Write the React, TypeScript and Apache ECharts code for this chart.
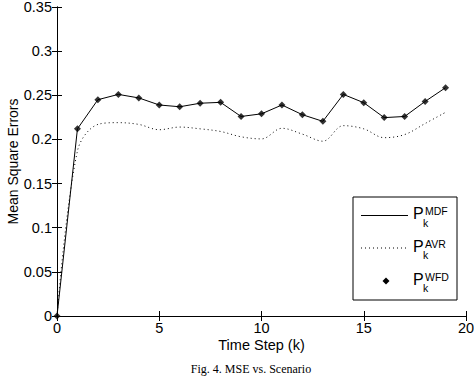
import React, { useEffect, useRef } from "react";
import * as echarts from "echarts";

const steps = [0, 1, 2, 3, 4, 5, 6, 7, 8, 9, 10, 11, 12, 13, 14, 15, 16, 17, 18, 19];
const mdf = [0, 0.212, 0.245, 0.251, 0.247, 0.239, 0.237, 0.241, 0.242, 0.226, 0.229, 0.239, 0.228, 0.2205, 0.251, 0.2416, 0.2247, 0.226, 0.243, 0.2586];
const wfd = [0, 0.212, 0.245, 0.251, 0.247, 0.239, 0.237, 0.241, 0.242, 0.226, 0.229, 0.239, 0.228, 0.2205, 0.251, 0.2416, 0.2247, 0.226, 0.243, 0.2586];
const avr = [0, 0.187, 0.217, 0.219, 0.217, 0.211, 0.214, 0.212, 0.209, 0.203, 0.2006, 0.2126, 0.206, 0.198, 0.2156, 0.212, 0.202, 0.2055, 0.218, 0.2307];
const legendNames = ["MDF", "AVR", "WFD"];
const xTitle = "Time Step (k)";
const yTitle = "Mean Square Errors";
const caption = "Fig. 4. MSE vs. Scenario";

const FONT = "'Liberation Sans', Arial, sans-serif";

function legendEntry(i: number, name: string, cy: number): any[] {
  const els: any[] = [];
  if (i === 0) {
    els.push({ type: "line", shape: { x1: 361, y1: cy, x2: 408, y2: cy }, style: { stroke: "#000", lineWidth: 1 } });
  } else if (i === 1) {
    els.push({ type: "line", shape: { x1: 361, y1: cy, x2: 408, y2: cy }, style: { stroke: "#000", lineWidth: 1, lineDash: [1, 3] } });
  } else {
    els.push({ type: "polygon", shape: { points: [[386, cy - 3.5], [389.5, cy], [386, cy + 3.5], [382.5, cy]] }, style: { fill: "#000" } });
  }
  els.push({ type: "text", x: 413, y: cy - 2, style: { text: "P", font: `16px ${FONT}`, fill: "#000", align: "left", verticalAlign: "middle", textAlign: "left", textVerticalAlign: "middle" } });
  els.push({ type: "text", x: 425, y: cy - 4.5, style: { text: name, font: `10.5px ${FONT}`, fill: "#000", align: "left", verticalAlign: "middle", textAlign: "left", textVerticalAlign: "middle" } });
  els.push({ type: "text", x: 423, y: cy + 7, style: { text: "k", font: `10.5px ${FONT}`, fill: "#000", align: "left", verticalAlign: "middle", textAlign: "left", textVerticalAlign: "middle" } });
  return els;
}

export default function App() {
  const ref = useRef<HTMLDivElement>(null);
  useEffect(() => {
    if (!ref.current) return;
    const chart = echarts.init(ref.current, undefined, { renderer: "svg" });
    const axisCommon = {
      type: "value" as const,
      axisLine: { show: true, lineStyle: { color: "#000", width: 1 } },
      axisTick: { show: true, inside: true, length: 5, lineStyle: { color: "#000" } },
      splitLine: { show: false },
    };
    const legendEls: any[] = [
      { type: "rect", shape: { x: 353, y: 197, width: 104, height: 103 }, style: { fill: "#fff", stroke: "#000", lineWidth: 1 } },
      ...legendEntry(0, legendNames[0], 215.5),
      ...legendEntry(1, legendNames[1], 248),
      ...legendEntry(2, legendNames[2], 281),
    ];
    chart.setOption({
      animation: false,
      backgroundColor: "#fff",
      grid: { left: 57, right: 8, top: 7, bottom: 61, containLabel: false, outerBoundsMode: "none" },
      xAxis: [
        {
          ...axisCommon,
          min: 0, max: 20, interval: 5,
          position: "bottom",
          axisLabel: { color: "#000", fontSize: 14.5, fontFamily: FONT, margin: 4 },
          name: xTitle,
          nameLocation: "middle",
          nameGap: 21,
          nameMoveOverlap: false,
          nameTextStyle: { color: "#000", fontSize: 14.5, fontFamily: FONT },
        },
        {
          ...axisCommon,
          min: 0, max: 20, interval: 5,
          position: "top",
          axisLabel: { show: false },
        },
      ],
      yAxis: [
        {
          ...axisCommon,
          min: 0, max: 0.35, interval: 0.05,
          position: "left",
          axisLabel: { color: "#000", fontSize: 14.5, fontFamily: FONT, margin: 5 },
          name: yTitle,
          nameLocation: "middle",
          nameGap: 37,
          nameMoveOverlap: false,
          nameTextStyle: { color: "#000", fontSize: 14, fontFamily: FONT },
        },
        {
          ...axisCommon,
          min: 0, max: 0.35, interval: 0.05,
          position: "right",
          axisLabel: { show: false },
        },
      ],
      series: [
        {
          name: legendNames[0], type: "line", showSymbol: false, symbol: "none",
          data: steps.map((s, i) => [s, mdf[i]]),
          lineStyle: { color: "#000", width: 1 },
          z: 3,
        },
        {
          name: legendNames[1], type: "line", showSymbol: false, symbol: "none", smooth: 0.35,
          data: steps.map((s, i) => [s, avr[i]]),
          lineStyle: { color: "#000", width: 1, type: [1, 3] },
          z: 2,
        },
        {
          name: legendNames[2], type: "scatter", symbol: "diamond", symbolSize: 7,
          data: steps.map((s, i) => [s, wfd[i]]),
          itemStyle: { color: "#000" },
          z: 4,
        },
      ],
      graphic: [
        ...legendEls,
        { type: "text", x: 251, y: 363, style: { text: caption, font: `12px 'Liberation Serif', 'Times New Roman', serif`, fill: "#000", align: "center", verticalAlign: "top", textAlign: "center", textVerticalAlign: "top" } },
      ],
    });
    return () => chart.dispose();
  }, []);
  return <div ref={ref} style={{ position: "fixed", left: 0, top: 0, width: 474, height: 377 }} />;
}
